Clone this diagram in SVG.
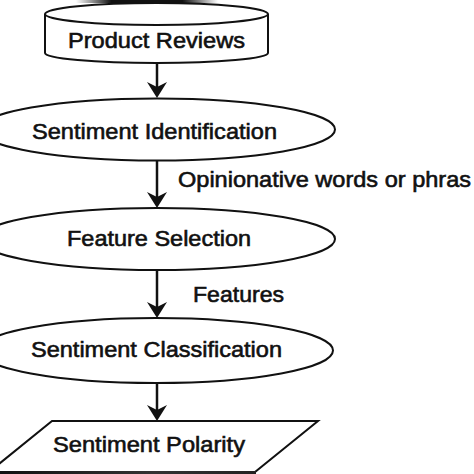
<svg xmlns="http://www.w3.org/2000/svg" width="474" height="474" viewBox="0 0 474 474">
  <style>
    .shape { fill: #ffffff; stroke: #111111; stroke-width: 2; }
    .lbl { font-family: "Liberation Sans", Arial, sans-serif; font-size: 22px; font-weight: normal; fill: #111111; stroke: #111111; stroke-width: 0.6; }
    .mid { text-anchor: middle; }
    .conn { stroke: #111111; stroke-width: 2.5; fill: none; marker-end: url(#arrow); }
  </style>
  <defs>
    <marker id="arrow" markerUnits="userSpaceOnUse" viewBox="-1 -11 18 22" markerWidth="18" markerHeight="22" refX="10" refY="0" orient="auto">
      <path d="M0,-10 L16,0 L0,10 L5,0 Z" fill="#111111"/>
    </marker>
    <linearGradient id="topband" x1="0" y1="0" x2="1" y2="0">
      <stop offset="0" stop-color="#111" stop-opacity="0"/>
      <stop offset="0.25" stop-color="#111" stop-opacity="1"/>
      <stop offset="0.75" stop-color="#111" stop-opacity="1"/>
      <stop offset="1" stop-color="#111" stop-opacity="0"/>
    </linearGradient>
    <linearGradient id="botband" x1="0" y1="0" x2="1" y2="0">
      <stop offset="0" stop-color="#111"/>
      <stop offset="0.6" stop-color="#333"/>
      <stop offset="1" stop-color="#222"/>
    </linearGradient>
  </defs>
  <rect width="474" height="474" fill="#ffffff"/>
  <rect x="76" y="0" width="142" height="3" fill="url(#topband)"/>

  <g id="connectors">
    <line class="conn" x1="157" y1="63" x2="157" y2="92"/>
    <line class="conn" x1="157" y1="160" x2="157" y2="202"/>
    <line class="conn" x1="157" y1="270" x2="157" y2="312"/>
    <line class="conn" x1="157" y1="383" x2="157" y2="415"/>
    <text class="lbl" x="178" y="187" textLength="293" lengthAdjust="spacingAndGlyphs">Opinionative words or phras</text>
    <text class="lbl" x="193" y="302" textLength="91" lengthAdjust="spacingAndGlyphs">Features</text>
  </g>

  <g id="product-reviews">
    <path class="shape" d="M45,14 L45,53 A111.5,10 0 0 0 268,53 L268,14"/>
    <ellipse class="shape" cx="156.5" cy="14" rx="111.5" ry="11"/>
    <text class="lbl mid" x="156.5" y="48" textLength="177" lengthAdjust="spacingAndGlyphs">Product Reviews</text>
  </g>

  <g id="sentiment-identification">
    <ellipse class="shape" cx="157" cy="129.5" rx="178" ry="31"/>
    <text class="lbl mid" x="154.5" y="139" textLength="245" lengthAdjust="spacingAndGlyphs">Sentiment Identification</text>
  </g>

  <g id="feature-selection">
    <ellipse class="shape" cx="157" cy="239" rx="178" ry="31"/>
    <text class="lbl mid" x="159" y="246" textLength="184" lengthAdjust="spacingAndGlyphs">Feature Selection</text>
  </g>

  <g id="sentiment-classification">
    <ellipse class="shape" cx="156" cy="350.5" rx="177" ry="32.5"/>
    <text class="lbl mid" x="156.5" y="357" textLength="251" lengthAdjust="spacingAndGlyphs">Sentiment Classification</text>
  </g>

  <g id="sentiment-polarity">
    <polygon class="shape" points="52,421 318,421 255,472 -11,472"/>
    <rect x="0" y="471" width="256" height="3" fill="url(#botband)"/>
    <text class="lbl mid" x="149" y="452" textLength="192" lengthAdjust="spacingAndGlyphs">Sentiment Polarity</text>
  </g>
</svg>
